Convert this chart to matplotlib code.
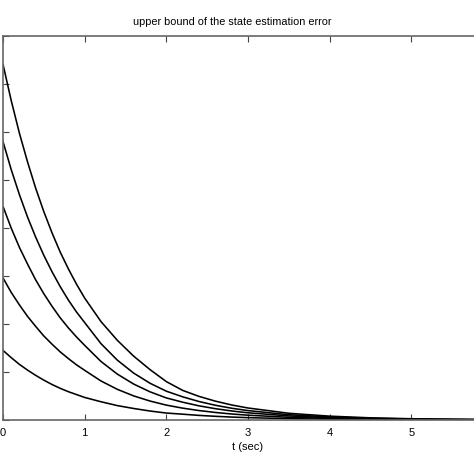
import numpy as np
import matplotlib
matplotlib.use('Agg')
import matplotlib.pyplot as plt

# 时间点 (sec)
t = [0, 0.1, 0.2, 0.3, 0.4, 0.5, 0.6, 0.7, 0.8, 0.9, 1.0,
     1.2, 1.4, 1.6, 1.8, 2.0, 2.2, 2.4, 2.6, 2.8, 3.0,
     3.5, 4.0, 4.5, 5.0, 5.5, 6.0]

# 五条误差上界曲线
bound1 = [7.41, 6.66, 5.98, 5.38, 4.83, 4.34, 3.90, 3.50, 3.15, 2.83, 2.54,
          2.05, 1.66, 1.33, 1.05, 0.80, 0.617, 0.492, 0.393, 0.313, 0.25,
          0.14, 0.08, 0.045, 0.026, 0.015, 0.008]
bound2 = [5.80, 5.22, 4.70, 4.23, 3.81, 3.43, 3.09, 2.78, 2.50, 2.25, 2.03,
          1.59, 1.247, 0.977, 0.766, 0.60, 0.483, 0.385, 0.307, 0.245, 0.196,
          0.11, 0.064, 0.035, 0.020, 0.012, 0.006]
bound3 = [4.45, 4.00, 3.60, 3.25, 2.92, 2.63, 2.37, 2.13, 1.92, 1.73, 1.555,
          1.219, 0.956, 0.749, 0.587, 0.46, 0.371, 0.295, 0.236, 0.188, 0.150,
          0.085, 0.049, 0.027, 0.016, 0.009, 0.005]
bound4 = [2.96, 2.66, 2.40, 2.16, 1.95, 1.75, 1.58, 1.42, 1.28, 1.15, 1.035,
          0.813, 0.639, 0.502, 0.395, 0.31, 0.247, 0.197, 0.157, 0.125, 0.100,
          0.056, 0.033, 0.018, 0.010, 0.006, 0.003]
bound5 = [1.45, 1.30, 1.16, 1.04, 0.93, 0.83, 0.74, 0.66, 0.59, 0.53, 0.47,
          0.38, 0.30, 0.24, 0.187, 0.145, 0.121, 0.096, 0.077, 0.061, 0.049,
          0.028, 0.016, 0.009, 0.005, 0.003, 0.0015]

x_ticks = [0, 1, 2, 3, 4, 5]
y_ticks = [0, 1, 2, 3, 4, 5, 6, 7, 8]

plt.rcParams['font.family'] = ['Liberation Sans', 'DejaVu Sans']

fig = plt.figure(figsize=(4.74, 4.74), dpi=100)
# 坐标轴右侧超出画布（原图被裁剪）
ax = fig.add_axes([3 / 474, 54 / 474, 490 / 474, 384 / 474])

for curve in [bound1, bound2, bound3, bound4, bound5]:
    ax.plot(t, curve, color='black', linewidth=1.15)

ax.set_xlim(0, 6)
ax.set_ylim(0, 8)
ax.set_xticks(x_ticks)
ax.set_yticks(y_ticks)
ax.set_yticklabels([])
ax.tick_params(direction='in', length=4, width=0.8, color='#444444',
               top=True, right=True, labelsize=8, pad=6)
for sp in ax.spines.values():
    sp.set_color('#666666')
    sp.set_linewidth(1.2)

ax.set_xlabel('t (sec)', fontsize=8, labelpad=3)
fig.text(232.5 / 474, 1 - 22 / 474, 'upper bound of the state estimation error',
         ha='center', va='center', fontsize=7.8)

fig.savefig('out.png', dpi=100)
